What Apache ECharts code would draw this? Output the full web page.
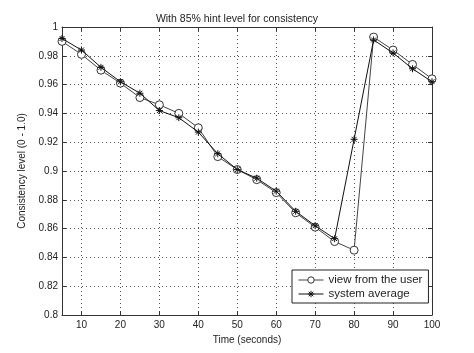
<!DOCTYPE html>
<html><head><meta charset="utf-8">
<script src="https://cdn.jsdelivr.net/npm/echarts@6/dist/echarts.min.js"></script>
<style>html,body{margin:0;padding:0;background:#fff}#c{width:474px;height:353px}</style>
</head><body><div id="c"></div>
<script>
var times = [5,10,15,20,25,30,35,40,45,50,55,60,65,70,75,80,85,90,95,100];
var userView = [0.990,0.981,0.970,0.961,0.951,0.946,0.940,0.930,0.910,0.901,0.894,0.885,0.871,0.861,0.851,0.845,0.993,0.984,0.974,0.964];
var systemAvg = [0.992,0.984,0.972,0.962,0.954,0.942,0.937,0.927,0.912,0.901,0.895,0.886,0.872,0.862,0.853,0.922,0.991,0.982,0.971,0.962];
var xTicks = [10,20,30,40,50,60,70,80,90,100];
var seriesNames = ['view from the user','system average'];

var star = 'path://M0,-5L0,5M-5,0L5,0M-3.5,-3.5L3.5,3.5M-3.5,3.5L3.5,-3.5';
var font = 'Liberation Sans';
var axisCol = '#333';
var gridLine = {show:true, lineStyle:{color:'#555', type:[1,3], width:1}};

var chart = echarts.init(document.getElementById('c'), null, {renderer:'canvas'});
chart.setOption({
  animation:false,
  backgroundColor:'#fff',
  textStyle:{fontFamily:font},
  title:{text:'With 85% hint level for consistency', left:'center', top:9,
    textStyle:{fontFamily:font, fontSize:10.5, fontWeight:'normal', color:'#222'}},
  grid:{left:62, right:42, top:27, bottom:38},
  legend:{
    orient:'vertical', left:292, top:270,
    backgroundColor:'#fff', borderColor:'#222', borderWidth:1,
    padding:[4,6,3,6], itemGap:2, itemWidth:25, itemHeight:8,
    textStyle:{fontFamily:font, fontSize:11.5, color:'#222'},
    lineStyle:{width:1},
    data:[
      {name:seriesNames[0], itemStyle:{color:'#fff', borderColor:'#333', borderWidth:1}, lineStyle:{color:'#444', width:1}},
      {name:seriesNames[1], itemStyle:{color:'none', borderColor:'#111', borderWidth:1}, lineStyle:{color:'#111', width:1}}
    ]
  },
  xAxis:[{
    type:'value', min:5, max:100,
    name:'Time (seconds)', nameLocation:'middle', nameGap:20,
    nameTextStyle:{fontFamily:font, fontSize:10, color:'#222'},
    axisLine:{show:true, onZero:false, lineStyle:{color:axisCol}},
    axisTick:{show:true, inside:true, length:4, customValues:xTicks, lineStyle:{color:axisCol}},
    axisLabel:{show:true, customValues:xTicks, margin:5, fontSize:10, color:'#222', fontFamily:font},
    splitLine:gridLine
  },{
    type:'value', min:5, max:100, position:'top',
    axisLine:{show:true, onZero:false, lineStyle:{color:axisCol}},
    axisTick:{show:true, inside:true, length:4, customValues:xTicks, lineStyle:{color:axisCol}},
    axisLabel:{show:false}, splitLine:{show:false}
  }],
  yAxis:[{
    type:'value', min:0.8, max:1, interval:0.02,
    name:'Consistency level (0 - 1.0)', nameLocation:'middle', nameGap:29,
    nameTextStyle:{fontFamily:font, fontSize:10, color:'#222'},
    axisLine:{show:true, onZero:false, lineStyle:{color:axisCol}},
    axisTick:{show:true, inside:true, length:4, lineStyle:{color:axisCol}},
    axisLabel:{margin:4, fontSize:10, color:'#222', fontFamily:font},
    splitLine:gridLine
  },{
    type:'value', min:0.8, max:1, interval:0.02, position:'right',
    axisLine:{show:true, onZero:false, lineStyle:{color:axisCol}},
    axisTick:{show:true, inside:true, length:4, lineStyle:{color:axisCol}},
    axisLabel:{show:false}, splitLine:{show:false}
  }],
  series:[{
    name:seriesNames[0], type:'line',
    data: times.map(function(t,i){return [t,userView[i]];}),
    symbol:'circle', symbolSize:8,
    lineStyle:{color:'#444', width:1},
    itemStyle:{color:'#fff', borderColor:'#333', borderWidth:1},
    z:2
  },{
    name:seriesNames[1], type:'line',
    data: times.map(function(t,i){return [t,systemAvg[i]];}),
    symbol:star, symbolSize:7,
    lineStyle:{color:'#111', width:1},
    itemStyle:{color:'none', borderColor:'#111', borderWidth:1},
    z:3
  }]
});
</script></body></html>
